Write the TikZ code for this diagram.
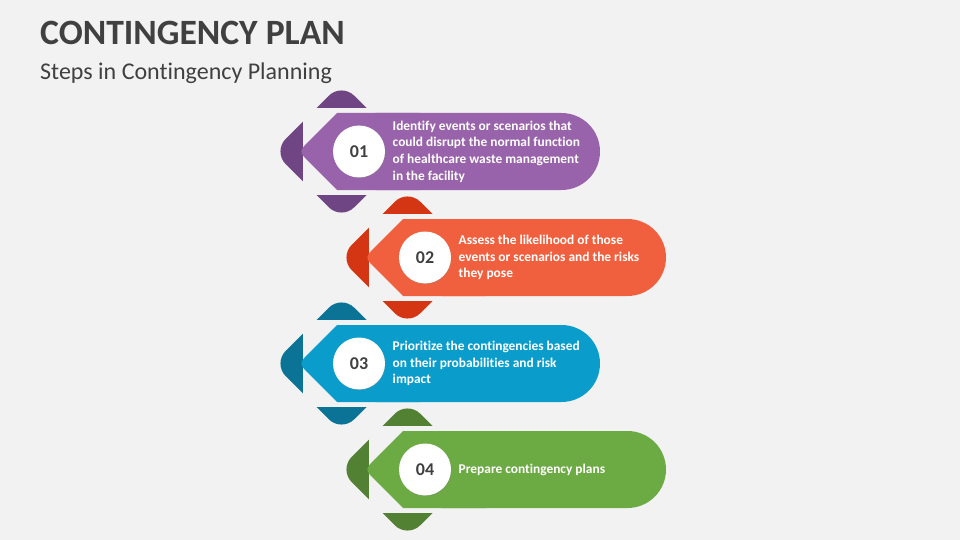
\documentclass[tikz,border=0pt]{standalone}
\usepackage{fontspec}
\setmainfont{Carlito}[Ligatures=NoCommon]
\usetikzlibrary{shadows}
\definecolor{slidebg}{RGB}{242,242,242}
\definecolor{titlegray}{RGB}{64,64,64}
\definecolor{plumlight}{RGB}{152,99,170}
\definecolor{plumdark}{RGB}{111,69,131}
\definecolor{emberlight}{RGB}{241,96,62}
\definecolor{emberdark}{RGB}{212,54,20}
\definecolor{skylight}{RGB}{10,157,204}
\definecolor{skydark}{RGB}{11,115,150}
\definecolor{leaflight}{RGB}{108,170,67}
\definecolor{leafdark}{RGB}{83,129,52}

\begin{document}
\begin{tikzpicture}[x=1pt, y=-1pt,
    numdisc/.style={circle, fill=white, minimum size=52pt, inner sep=0pt,
      font=\fontsize{18}{18}\selectfont\bfseries, text=titlegray,
      drop shadow={shadow xshift=0.6pt, shadow yshift=-0.9pt, opacity=0.3}},
    steptext/.style={anchor=west, align=left, text=white, inner sep=0pt,
      font=\fontsize{13.4}{16.7}\selectfont\bfseries}]
    % Slide background
    \fill[slidebg] (0,0) rectangle (960,540);
    \useasboundingbox (0,0) rectangle (960,540);

    % Title
    \node[anchor=base west, inner sep=0pt, text=titlegray,
          font=\fontsize{35.6}{36}\selectfont\bfseries] (title) at (40,44.3) {CONTINGENCY PLAN};
    \node[anchor=base west, inner sep=0pt, text=titlegray,
          font=\fontsize{24}{24}\selectfont] (subtitle) at (40,80) {Steps in Contingency Planning};

    % Steps
    \foreach \k/\xo/\main/\dark/\txt in {
      1/0/plumlight/plumdark/{Identify events or scenarios that\\could disrupt the normal function\\of healthcare waste management\\in the facility},
      2/66/emberlight/emberdark/{Assess the likelihood of those\\events or scenarios and the risks\\they pose},
      3/0/skylight/skydark/{Prioritize the contingencies based\\on their probabilities and risk\\impact},
      4/66/leaflight/leafdark/{Prepare contingency plans}}
    {
      \pgfmathsetmacro\yc{151.5+106*(\k-1)}
      % rounded diamond behind
      \fill[\dark, rounded corners=18pt] (341.5+\xo,\yc-68.5) -- (410+\xo,\yc)
        -- (341.5+\xo,\yc+68.5) -- (273+\xo,\yc) -- cycle;
      % gap round the banner
      \fill[slidebg] (303+\xo,\yc-43.5) rectangle (606+\xo,\yc+43.5);
      % banner
      \fill[\main] (337+\xo,\yc-38.5) -- (420+\xo,\yc-38.5) -- (420+\xo,\yc+38.5)
        -- (337+\xo,\yc+38.5) -- (310+\xo,\yc+11.5) .. controls (298.5+\xo,\yc) .. (310+\xo,\yc-11.5) -- cycle;
      \fill[\main, rounded corners=38.5pt] (337+\xo,\yc-38.5) rectangle (600+\xo,\yc+38.5);
      % number and text
      \node[numdisc] (disc\k) at (359+\xo,\yc) {0\k};
      \node[steptext] (txt\k) at (392.5+\xo,\yc) {\txt};
    }
\end{tikzpicture}
\end{document}
